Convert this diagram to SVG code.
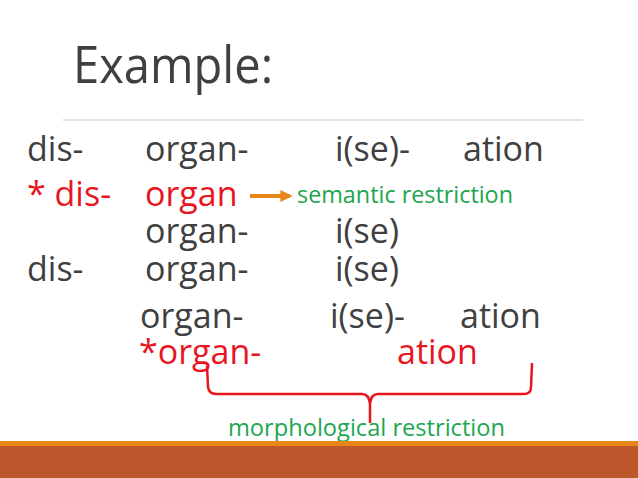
<svg xmlns="http://www.w3.org/2000/svg" width="638" height="478" viewBox="0 0 638 478">
<defs>
<style>
text{font-family:"Open Sans","Noto Sans","DejaVu Sans",sans-serif}
.t{font-size:34px;fill:#404040}
.r{font-size:34px;fill:#E8151F}
.g{font-size:24px;fill:#20A64F}
.title{font-size:52px;fill:#404040}
</style>
<marker id="ah" viewBox="0 0 10 10" refX="8" refY="5" markerWidth="3" markerHeight="3" orient="auto" markerUnits="strokeWidth">
<path d="M0,0 L10,5 L0,10 Z" fill="#E8861A"/>
</marker>
</defs>
<rect width="638" height="478" fill="#ffffff"/>
<g id="title"><text class="title" x="73" y="83" textLength="200" lengthAdjust="spacingAndGlyphs">Example:</text></g>
<line x1="63" y1="120" x2="583" y2="120" stroke="#d9d9d9" stroke-width="1.5"/>
<g id="row1">
<text class="t" x="27" y="161">dis-</text>
<text class="t" x="145" y="161">organ-</text>
<text class="t" x="335" y="161">i(se)-</text>
<text class="t" x="463" y="161">ation</text>
</g>
<g id="row2">
<text class="r" x="27" y="206">* dis-</text>
<text class="r" x="145" y="206">organ</text>
</g>
<g id="semantic"><text class="g" x="297" y="203" textLength="216" lengthAdjust="spacingAndGlyphs">semantic restriction</text></g>
<g id="row3">
<text class="t" x="145" y="243">organ-</text>
<text class="t" x="335" y="243">i(se)</text>
</g>
<g id="row4">
<text class="t" x="27" y="281">dis-</text>
<text class="t" x="145" y="281">organ-</text>
<text class="t" x="335" y="281">i(se)</text>
</g>
<g id="row5">
<text class="t" x="140" y="328">organ-</text>
<text class="t" x="330" y="328">i(se)-</text>
<text class="t" x="460" y="328">ation</text>
</g>
<g id="row6">
<text class="r" x="139" y="364">*organ-</text>
<text class="r" x="397" y="364">ation</text>
</g>
<g id="morph"><text class="g" x="228" y="436" textLength="277" lengthAdjust="spacingAndGlyphs">morphological restriction</text></g>
<g id="connectors">
<line x1="250" y1="196" x2="290" y2="196" stroke="#E8861A" stroke-width="4" marker-end="url(#ah)"/>
<path d="M207,366 L208,387 Q209,394 216,394 L362,394 Q369,394 370,404 L370,423 M370,404 Q371,394 378,394 L524,394 Q531,394 531,387 L532,363" fill="none" stroke="#E8151F" stroke-width="2.5"/>
</g>
<g id="footer">
<rect x="0" y="441" width="638" height="5" fill="#E8861A"/>
<rect x="0" y="446" width="638" height="32" fill="#BC582C"/>
</g>
</svg>
